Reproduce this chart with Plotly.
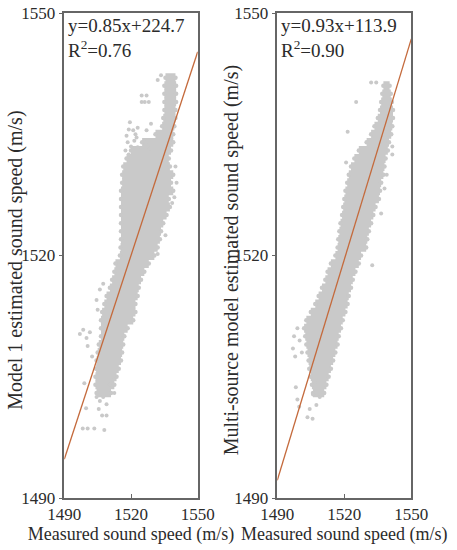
import plotly.graph_objects as go

# ---- data ----
# horizontal bands of the dense point cloud: y level, leftmost x, rightmost x
m1_y = [1542, 1541, 1540, 1539, 1538, 1537, 1536, 1535, 1534, 1533, 1532, 1531,
        1530, 1529, 1528, 1527, 1526, 1525, 1524, 1523, 1522, 1521, 1520, 1519,
        1518, 1517, 1516, 1515, 1514, 1513, 1512, 1511, 1510, 1509, 1508, 1507,
        1506, 1505, 1504, 1503]
m1_xlo = [1535.5, 1535.0, 1535.0, 1535.0, 1535.0, 1534.5, 1534.0, 1531.0, 1525.0,
          1520.0, 1518.0, 1516.5, 1516.0, 1516.0, 1515.5, 1515.5, 1515.5, 1515.5,
          1515.5, 1515.5, 1515.5, 1515.3, 1515.0, 1513.0, 1512.5, 1511.5, 1510.5,
          1509.0, 1508.0, 1507.0, 1506.5, 1506.5, 1506.5, 1505.5, 1505.0, 1504.5,
          1504.3, 1504.0, 1504.0, 1504.5]
m1_xhi = [1540.0, 1540.3, 1540.3, 1540.3, 1540.0, 1540.0, 1539.5, 1539.0, 1539.0,
          1538.0, 1537.0, 1537.5, 1539.0, 1538.0, 1539.0, 1537.0, 1537.5, 1536.0,
          1534.5, 1533.5, 1533.0, 1532.0, 1530.5, 1528.0, 1526.0, 1524.5, 1523.5,
          1523.0, 1522.0, 1522.0, 1521.0, 1518.5, 1517.0, 1516.5, 1516.0, 1515.5,
          1514.5, 1513.5, 1512.5, 1511.0]
# scattered points outside the dense part
m1_px = [1524.8, 1527.0, 1524.8, 1526.2, 1528.0, 1532.0, 1533.5, 1519.5, 1521.0,
         1523.0, 1504.5, 1506.0, 1505.0, 1507.5, 1497.0, 1498.5, 1500.0, 1501.5,
         1500.5, 1502.5, 1499.0, 1499.8, 1504.5, 1506.0, 1507.5, 1509.0, 1505.5,
         1507.0, 1509.0, 1498.3, 1500.5, 1503.5, 1508.0, 1510.5, 1512.5, 1512.0,
         1540.0, 1540.5, 1538.5, 1539.5, 1535.5, 1532.0, 1518.0, 1522.5, 1519.0,
         1518.5, 1520.0, 1521.5, 1523.0, 1527.0, 1529.0, 1517.5, 1519.0, 1522.0,
         1526.5, 1528.5]
m1_py = [1539.8, 1539.8, 1539.0, 1539.0, 1539.0, 1541.7, 1542.3, 1536.5, 1535.5,
         1535.8, 1514.5, 1515.8, 1513.3, 1516.5, 1510.3, 1510.8, 1509.8, 1510.5,
         1508.8, 1507.5, 1504.2, 1501.1, 1502.5, 1502.0, 1502.5, 1501.6, 1501.0,
         1500.2, 1500.2, 1498.6, 1498.6, 1498.6, 1498.4, 1504.0, 1503.0, 1505.0,
         1531.0, 1529.0, 1526.5, 1527.2, 1522.5, 1520.2, 1534.8, 1534.6, 1535.6,
         1534.0, 1533.5, 1534.2, 1533.4, 1535.5, 1536.3, 1533.0, 1532.5, 1535.0,
         1534.0, 1533.2]
m1_fit_x = [1490, 1550]
m1_fit_y = [1494.8, 1545.2]

ms_y = [1541, 1540, 1539, 1538, 1537, 1536, 1535, 1534, 1533, 1532, 1531, 1530,
        1529, 1528, 1527, 1526, 1525, 1524, 1523, 1522, 1521, 1520, 1519, 1518,
        1517, 1516, 1515, 1514, 1513, 1512, 1511, 1510, 1509, 1508, 1507, 1506,
        1505, 1504, 1503]
ms_xlo = [1537.5, 1537.0, 1536.5, 1536.0, 1535.0, 1533.5, 1532.0, 1530.0, 1526.5,
          1524.5, 1523.0, 1522.0, 1521.3, 1520.5, 1520.0, 1519.5, 1519.0, 1518.3,
          1517.8, 1517.3, 1517.0, 1516.0, 1514.0, 1512.5, 1511.5, 1510.0, 1508.5,
          1507.0, 1505.0, 1503.0, 1502.0, 1502.5, 1503.0, 1503.5, 1504.0, 1504.3,
          1505.0, 1505.5, 1506.0]
ms_xhi = [1540.3, 1540.8, 1541.3, 1541.8, 1541.8, 1541.5, 1541.0, 1540.0, 1539.5,
          1538.5, 1538.0, 1537.5, 1536.5, 1536.0, 1535.5, 1534.0, 1533.0, 1532.0,
          1531.0, 1530.3, 1529.8, 1527.5, 1526.5, 1525.0, 1523.8, 1523.0, 1522.0,
          1521.5, 1520.5, 1519.3, 1518.5, 1517.5, 1517.0, 1516.0, 1515.0, 1514.0,
          1513.0, 1512.0, 1511.0]
ms_px = [1532.0, 1534.3, 1525.3, 1521.5, 1520.8, 1536.5, 1497.0, 1498.0, 1500.0,
         1501.0, 1497.5, 1499.0, 1498.3, 1499.8, 1499.0, 1505.8, 1503.5, 1504.5,
         1507.5, 1509.0, 1506.0, 1508.5, 1541.5, 1541.5, 1539.0, 1538.0, 1532.5]
ms_py = [1541.4, 1541.4, 1539.0, 1535.3, 1531.5, 1525.2, 1508.5, 1507.5, 1509.5,
         1508.0, 1510.0, 1511.0, 1503.7, 1501.3, 1502.2, 1499.8, 1500.0, 1501.0,
         1501.5, 1502.5, 1502.8, 1504.3, 1533.5, 1532.5, 1530.0, 1528.3, 1518.8]
ms_fit_x = [1490, 1550]
ms_fit_y = [1492.2, 1546.8]

ticks = [1490, 1520, 1550]
serif = "Liberation Serif, Times New Roman, serif"
gray = "#c9c9c9"
fitcol = "#c46a3c"
txt = "#2b2b2b"
W, H = 457, 550


def bands(ys, xlo, xhi):
    bx, by = [], []
    for y, a, b in zip(ys, xlo, xhi):
        bx += [a, b, None]
        by += [y, y, None]
    return bx, by


fig = go.Figure()
panels = [(m1_y, m1_xlo, m1_xhi, m1_px, m1_py, m1_fit_x, m1_fit_y, "x", "y"),
          (ms_y, ms_xlo, ms_xhi, ms_px, ms_py, ms_fit_x, ms_fit_y, "x2", "y2")]
for ys, xlo, xhi, px, py, fx, fy, xa, ya in panels:
    bx, by = bands(ys, xlo, xhi)
    fig.add_trace(go.Scatter(x=bx, y=by, mode="lines", xaxis=xa, yaxis=ya,
                             line=dict(color=gray, width=8.8)))
    # ragged ends of each band
    fig.add_trace(go.Scatter(x=xlo + xhi, y=ys + ys, mode="markers", xaxis=xa, yaxis=ya,
                             marker=dict(color=gray, size=4.5)))
    fig.add_trace(go.Scatter(x=px, y=py, mode="markers", xaxis=xa, yaxis=ya,
                             marker=dict(color=gray, size=4)))
    fig.add_trace(go.Scatter(x=fx, y=fy, mode="lines", xaxis=xa, yaxis=ya,
                             line=dict(color=fitcol, width=1.3)))

ax = dict(range=[1490, 1550], tickvals=ticks, showgrid=False, zeroline=False,
          showline=True, linecolor="#666666", linewidth=1.5, mirror=True,
          ticklen=4, tickcolor="#666666", automargin=False,
          tickfont=dict(family=serif, size=17, color=txt))
xtitle = dict(text="Measured sound speed (m/s)",
              font=dict(family=serif, size=18, color=txt), standoff=0)

fig.update_layout(
    width=W, height=H, showlegend=False,
    margin=dict(l=0, r=0, t=12.5, b=52.3),
    plot_bgcolor="white", paper_bgcolor="white",
    xaxis=dict(ax, domain=[64.3 / W, 197.7 / W], ticks="inside", title=xtitle),
    xaxis2=dict(ax, domain=[277.3 / W, 411.3 / W], ticks="inside", anchor="y2", title=xtitle),
    yaxis=dict(ax, ticks="outside"),
    yaxis2=dict(ax, ticks="outside", anchor="x2"),
    annotations=[
        dict(text="y=0.85x+224.7<br>R<sup>2</sup>=0.76", xref="x domain", yref="y domain",
             x=0.01, y=1.0, xanchor="left", yanchor="top", showarrow=False, align="left",
             font=dict(family=serif, size=19, color=txt)),
        dict(text="y=0.93x+113.9<br>R<sup>2</sup>=0.90", xref="x2 domain", yref="y2 domain",
             x=0.01, y=1.0, xanchor="left", yanchor="top", showarrow=False, align="left",
             font=dict(family=serif, size=19, color=txt)),
        # y-axis titles
        dict(text="Model 1 estimated sound speed (m/s)", xref="paper", yref="y domain",
             x=15.5 / W, y=0.49, xanchor="center", yanchor="middle", textangle=-90,
             showarrow=False, font=dict(family=serif, size=20, color=txt)),
        dict(text="Multi-source model estimated sound speed (m/s)", xref="paper",
             yref="y2 domain", x=231 / W, y=0.49, xanchor="center", yanchor="middle",
             textangle=-90, showarrow=False, font=dict(family=serif, size=20, color=txt)),
    ],
)

# drop the browser's default 8px body margin so the figure sits at the page corner
fig.write_html("out.html", config={"displayModeBar": False},
               post_script="document.body.style.margin='0';")
